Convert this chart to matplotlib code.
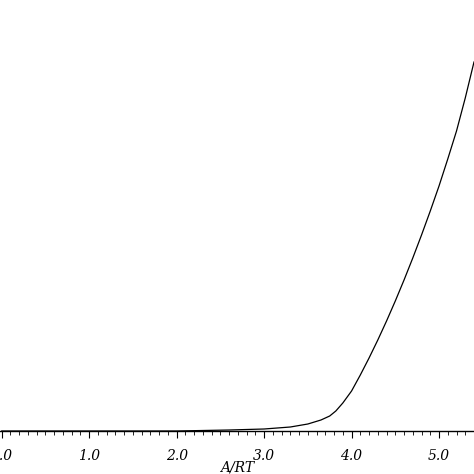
import matplotlib
matplotlib.use("Agg")
import matplotlib.pyplot as plt
import numpy as np
from matplotlib.ticker import MultipleLocator

x_vals = [0.0, 1.0, 2.0, 2.6, 3.0, 3.3, 3.5, 3.65, 3.75, 3.82, 3.9, 4.0, 4.1, 4.2, 4.3, 4.4, 4.5, 4.6, 4.7, 4.8, 4.9, 5.0, 5.1, 5.2, 5.3, 5.4]
y_vals = [0, 0, 0, 1, 2, 4, 7, 11, 15, 20, 28, 40, 56, 73, 91, 110, 130, 151, 173, 196, 220, 245, 272, 300, 333, 369]
tick_vals = [0.0, 1.0, 2.0, 3.0, 4.0, 5.0]
tick_labels = ["0.0", "1.0", "2.0", "3.0", "4.0", "5.0"]

fig = plt.figure(figsize=(4.74, 4.74), dpi=100)
ax = fig.add_axes([0, 43/474, 1, 431/474])
ax.plot(x_vals, y_vals, color="black", lw=0.9)
ax.set_xlim(-0.02, 5.4)
ax.set_ylim(0, 431)
for s in ["top", "left", "right"]:
    ax.spines[s].set_visible(False)
ax.spines["bottom"].set_linewidth(1.0)
ax.set_yticks([])
ax.set_xticks(tick_vals)
ax.set_xticklabels(tick_labels, fontfamily="DejaVu Serif", style="italic", fontsize=10)
ax.xaxis.set_minor_locator(MultipleLocator(0.1))
ax.tick_params(axis="x", which="major", direction="out", length=5, pad=8)
ax.tick_params(axis="x", which="minor", direction="out", length=3)
ax.set_xlabel("A/RT", fontfamily="DejaVu Serif", style="italic", fontsize=10, labelpad=-2)
fig.savefig("out.png", dpi=100)
